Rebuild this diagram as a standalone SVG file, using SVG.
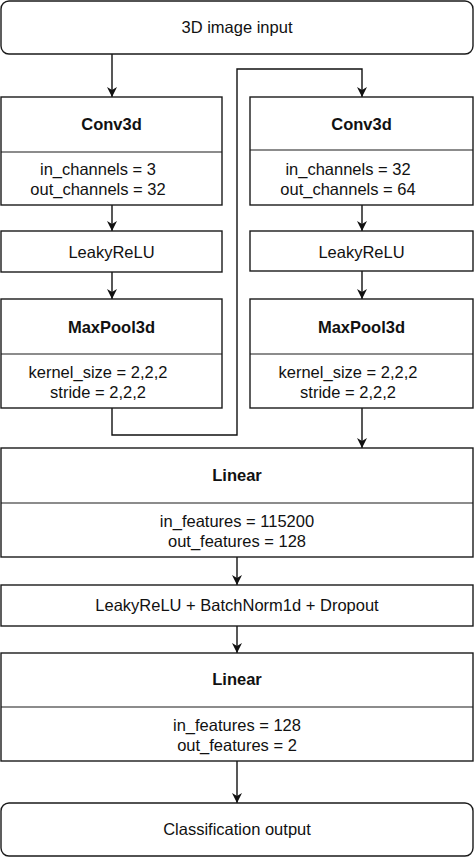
<svg xmlns="http://www.w3.org/2000/svg" width="474" height="857" viewBox="0 0 474 857">
<style>
.b{fill:#fff;stroke:#1a1a1a;stroke-width:1.4}
.d{fill:none;stroke:#1a1a1a;stroke-width:1.2}
.t{font-family:"Liberation Sans",Arial,Helvetica,sans-serif;font-size:16.5px;fill:#111;text-anchor:middle}
.h{font-weight:bold}
.c{fill:none;stroke:#111;stroke-width:1.4}
</style>
<defs>
<marker id="a" viewBox="0 0 10 10" refX="10" refY="5" markerWidth="10" markerHeight="10" markerUnits="userSpaceOnUse" orient="auto">
<path d="M0,0 L10,5 L0,10 L3,5 z" fill="#111"/>
</marker>
</defs>
<rect width="474" height="857" fill="#fff"/>
<g id="connectors">
<path class="c" d="M112,54 V97" marker-end="url(#a)"/>
<path class="c" d="M112,205 V231" marker-end="url(#a)"/>
<path class="c" d="M112,272 V299" marker-end="url(#a)"/>
<path class="c" d="M112,408 V435 H237 V69 H362 V97" marker-end="url(#a)"/>
<path class="c" d="M362,205 V231" marker-end="url(#a)"/>
<path class="c" d="M362,271 V299" marker-end="url(#a)"/>
<path class="c" d="M362,408 V448" marker-end="url(#a)"/>
<path class="c" d="M237,557 V585" marker-end="url(#a)"/>
<path class="c" d="M237,626 V653" marker-end="url(#a)"/>
<path class="c" d="M237,761 V803" marker-end="url(#a)"/>
</g>
<g id="input">
<rect class="b" x="1" y="1" width="472" height="53" rx="8"/>
<text class="t" x="237" y="33">3D image input</text>
</g>
<g id="conv1">
<rect class="b" x="1" y="97" width="221" height="108"/>
<line class="d" x1="1" y1="152" x2="222" y2="152"/>
<text class="t h" x="111.5" y="130">Conv3d</text>
<text class="t" x="98" y="175">in_channels = 3</text>
<text class="t" x="98" y="195">out_channels = 32</text>
</g>
<g id="conv2">
<rect class="b" x="250" y="97" width="223" height="108"/>
<line class="d" x1="250" y1="150" x2="473" y2="150"/>
<text class="t h" x="361.5" y="130">Conv3d</text>
<text class="t" x="348" y="175">in_channels = 32</text>
<text class="t" x="348" y="195">out_channels = 64</text>
</g>
<g id="relu1">
<rect class="b" x="1" y="231" width="221" height="41"/>
<text class="t" x="111.5" y="258">LeakyReLU</text>
</g>
<g id="relu2">
<rect class="b" x="250" y="231" width="223" height="40"/>
<text class="t" x="361.5" y="258">LeakyReLU</text>
</g>
<g id="pool1">
<rect class="b" x="1" y="299" width="221" height="109"/>
<line class="d" x1="1" y1="354" x2="222" y2="354"/>
<text class="t h" x="111.5" y="333">MaxPool3d</text>
<text class="t" x="98" y="378">kernel_size = 2,2,2</text>
<text class="t" x="98" y="398">stride = 2,2,2</text>
</g>
<g id="pool2">
<rect class="b" x="250" y="299" width="223" height="109"/>
<line class="d" x1="250" y1="354" x2="473" y2="354" stroke="#888"/>
<text class="t h" x="361.5" y="333">MaxPool3d</text>
<text class="t" x="348" y="378">kernel_size = 2,2,2</text>
<text class="t" x="348" y="398">stride = 2,2,2</text>
</g>
<g id="linear1">
<rect class="b" x="1" y="448" width="472" height="109"/>
<line class="d" x1="1" y1="503" x2="473" y2="503"/>
<text class="t h" x="237" y="481">Linear</text>
<text class="t" x="237" y="527">in_features = 115200</text>
<text class="t" x="237" y="547">out_features = 128</text>
</g>
<g id="act">
<rect class="b" x="1" y="585" width="472" height="41"/>
<text class="t" x="237" y="611">LeakyReLU + BatchNorm1d + Dropout</text>
</g>
<g id="linear2">
<rect class="b" x="1" y="653" width="472" height="108"/>
<line class="d" x1="1" y1="707" x2="473" y2="707"/>
<text class="t h" x="237" y="685">Linear</text>
<text class="t" x="237" y="731">in_features = 128</text>
<text class="t" x="237" y="751">out_features = 2</text>
</g>
<g id="output">
<rect class="b" x="1" y="803" width="472" height="53" rx="8"/>
<text class="t" x="237" y="835">Classification output</text>
</g>
</svg>
